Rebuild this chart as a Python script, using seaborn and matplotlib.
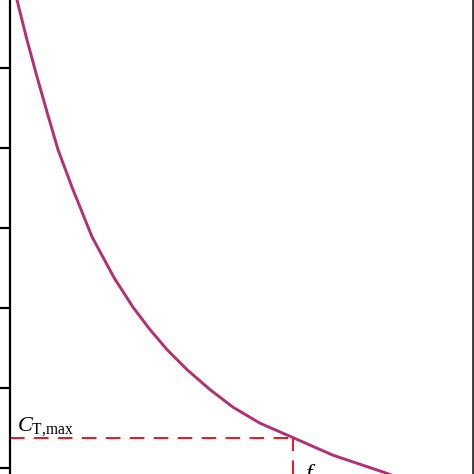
import numpy as np
import pandas as pd
import seaborn as sns
import matplotlib.pyplot as plt

# curve (arbitrary units)
x_vals = [0.07, 0.17, 0.27, 0.37, 0.48, 0.62, 0.82, 1.04, 1.23, 1.40,
          1.57, 1.77, 2.00, 2.23, 2.50, 2.83, 3.23, 3.73, 3.82]
y_vals = [6.85, 6.35, 5.89, 5.45, 4.98, 4.51, 3.89, 3.38, 3.01, 2.73,
          2.48, 2.23, 1.98, 1.76, 1.56, 1.38, 1.16, 0.95, 0.91]
y_ticks = [1, 2, 3, 4, 5, 6]

ct_max = 1.38   # C_T,max level
f_point = 2.83  # f position

df = pd.DataFrame({"x": x_vals, "y": y_vals})

sns.set_style("white")
plt.rcParams["mathtext.fontset"] = "custom"
plt.rcParams["mathtext.rm"] = "Liberation Serif"
plt.rcParams["mathtext.it"] = "Liberation Serif:italic"

fig = plt.figure(figsize=(4.74, 4.74), dpi=100)
ax = fig.add_axes([10 / 474, 0, 463 / 474, 1])

sns.lineplot(data=df, x="x", y="y", ax=ax, color="#b42f74", linewidth=2.1,
             solid_capstyle="round", solid_joinstyle="round")

ax.set_xlim(0, 4.63)
ax.set_ylim(0.925, 6.85)

# dashed guide lines
ax.hlines(ct_max, 0, f_point, colors="#e0202c", linestyles=(0, (7, 4.5)),
          linewidth=1.5)
ax.vlines(f_point, 0.0, ct_max, colors="#e0202c", linestyles=(0, (7, 4.5)),
          linewidth=1.5)

ax.text(0.07, ct_max + 0.09, r"$\mathit{C}_{\mathrm{T{,}max}}$", fontsize=16,
        ha="left", va="baseline", color="black")
ax.text(f_point + 0.12, ct_max - 0.3, r"$\mathit{f}$", fontsize=17,
        ha="left", va="top", color="black")

ax.set_xticks([])
ax.set_yticks(y_ticks)
ax.set_yticklabels([])
ax.set_xlabel("")
ax.set_ylabel("")
ax.tick_params(axis="y", direction="out", length=8, width=1.6, color="black",
               left=True)

for side in ["top", "bottom"]:
    ax.spines[side].set_visible(False)
ax.spines["left"].set_color("black")
ax.spines["left"].set_linewidth(1.6)
ax.spines["right"].set_color("#333333")
ax.spines["right"].set_linewidth(2)

fig.savefig("out.png", dpi=100)
